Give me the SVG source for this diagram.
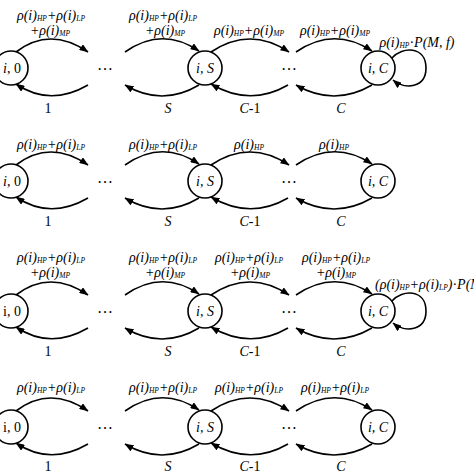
<svg xmlns="http://www.w3.org/2000/svg" width="474" height="474" viewBox="0 0 474 474">
<defs>
<marker id="ah" markerUnits="userSpaceOnUse" markerWidth="9" markerHeight="7" refX="8.5" refY="3.5" orient="auto">
<path d="M0,0 L9,3.5 L0,7 z" fill="#000"/>
</marker>
<style>
.arc{fill:none;stroke:#000;stroke-width:1.6;marker-end:url(#ah)}
.node{fill:#fff;stroke:#000;stroke-width:1.6}
.t{font-family:"Liberation Serif",serif;font-size:14px;fill:#000}
.r{font-family:"Liberation Serif",serif;font-size:14px;font-style:italic;fill:#000}
.s{font-size:7.5px;font-style:italic}
.it{font-style:italic}
.dots{font-family:"Liberation Serif",serif;font-size:16px;fill:#000}
</style>
</defs>
<rect width="474" height="474" fill="#fff"/>

<!-- ROW 1 -->
<g id="row1" transform="translate(0,68)">
<g id="r1-connectors">
<path class="arc" d="M16,-16 Q50,-42 88,-16"/>
<path class="arc" d="M125,-16 Q162,-42 199,-17"/>
<path class="arc" d="M211,-16 Q250,-42 289,-16"/>
<path class="arc" d="M296,-16 Q334,-42 372,-17"/>
<path class="arc" d="M88,17 Q50,39 16,16"/>
<path class="arc" d="M199,17 Q162,39 125,17"/>
<path class="arc" d="M288,17 Q250,39 211,16"/>
<path class="arc" d="M372,17 Q334,39 296,17"/>
<path class="arc" d="M392,-10 C402,-22 426,-22 426,0 C426,20 405,22 393,12"/>
</g>
<g id="r1-labels">
<text class="r" x="51" y="-48" text-anchor="middle">ρ(i)<tspan class="s" dy="1">HP</tspan><tspan dy="-1">+ρ(i)</tspan><tspan class="s" dy="1">LP</tspan></text>
<text class="r" x="50" y="-33" text-anchor="middle">+ρ(i)<tspan class="s" dy="1">MP</tspan></text>
<text class="r" x="163" y="-48" text-anchor="middle">ρ(i)<tspan class="s" dy="1">HP</tspan><tspan dy="-1">+ρ(i)</tspan><tspan class="s" dy="1">LP</tspan></text>
<text class="r" x="165" y="-33" text-anchor="middle">+ρ(i)<tspan class="s" dy="1">MP</tspan></text>
<text class="r" x="249" y="-33" text-anchor="middle">ρ(i)<tspan class="s" dy="1">HP</tspan><tspan dy="-1">+ρ(i)</tspan><tspan class="s" dy="1">MP</tspan></text>
<text class="r" x="335" y="-33" text-anchor="middle">ρ(i)<tspan class="s" dy="1">HP</tspan><tspan dy="-1">+ρ(i)</tspan><tspan class="s" dy="1">MP</tspan></text>
<text class="r" x="417" y="-21" text-anchor="middle">ρ(i)<tspan class="s" dy="1">HP</tspan><tspan dy="-1" font-style="normal">·</tspan>P(M, f)</text>
<text class="t" x="48" y="45" text-anchor="middle">1</text>
<text class="t it" x="168" y="45" text-anchor="middle">S</text>
<text class="t" x="250" y="45" text-anchor="middle"><tspan class="it">C</tspan>-1</text>
<text class="t it" x="341" y="45" text-anchor="middle">C</text>
<text class="dots" x="105" y="2" text-anchor="middle">…</text>
<text class="dots" x="289" y="2" text-anchor="middle">…</text>
</g>
<g id="r1-n0"><circle class="node" cx="11" cy="0" r="17"/><text class="t" x="12" y="5" text-anchor="middle"><tspan class="it">i</tspan>, 0</text></g>
<g id="r1-nS"><circle class="node" cx="205" cy="0" r="17"/><text class="t it" x="205" y="5" text-anchor="middle">i, S</text></g>
<g id="r1-nC"><circle class="node" cx="378" cy="0" r="17"/><text class="t it" x="378" y="5" text-anchor="middle">i, C</text></g>
</g>

<!-- ROW 2 -->
<g id="row2" transform="translate(0,181)">
<g id="r2-connectors">
<path class="arc" d="M16,-16 Q50,-42 88,-16"/>
<path class="arc" d="M125,-16 Q162,-42 199,-17"/>
<path class="arc" d="M211,-16 Q250,-42 289,-16"/>
<path class="arc" d="M296,-16 Q334,-42 372,-17"/>
<path class="arc" d="M88,17 Q50,39 16,16"/>
<path class="arc" d="M199,17 Q162,39 125,17"/>
<path class="arc" d="M288,17 Q250,39 211,16"/>
<path class="arc" d="M372,17 Q334,39 296,17"/>
</g>
<g id="r2-labels">
<text class="r" x="51" y="-32" text-anchor="middle">ρ(i)<tspan class="s" dy="1">HP</tspan><tspan dy="-1">+ρ(i)</tspan><tspan class="s" dy="1">LP</tspan></text>
<text class="r" x="163" y="-32" text-anchor="middle">ρ(i)<tspan class="s" dy="1">HP</tspan><tspan dy="-1">+ρ(i)</tspan><tspan class="s" dy="1">LP</tspan></text>
<text class="r" x="249" y="-32" text-anchor="middle">ρ(i)<tspan class="s" dy="1">HP</tspan></text>
<text class="r" x="334" y="-32" text-anchor="middle">ρ(i)<tspan class="s" dy="1">HP</tspan></text>
<text class="t" x="48" y="45" text-anchor="middle">1</text>
<text class="t it" x="168" y="45" text-anchor="middle">S</text>
<text class="t" x="250" y="45" text-anchor="middle"><tspan class="it">C</tspan>-1</text>
<text class="t it" x="341" y="45" text-anchor="middle">C</text>
<text class="dots" x="105" y="2" text-anchor="middle">…</text>
<text class="dots" x="289" y="2" text-anchor="middle">…</text>
</g>
<g id="r2-n0"><circle class="node" cx="11" cy="0" r="17"/><text class="t" x="12" y="5" text-anchor="middle"><tspan class="it">i</tspan>, 0</text></g>
<g id="r2-nS"><circle class="node" cx="205" cy="0" r="17"/><text class="t it" x="205" y="5" text-anchor="middle">i, S</text></g>
<g id="r2-nC"><circle class="node" cx="378" cy="0" r="17"/><text class="t it" x="378" y="5" text-anchor="middle">i, C</text></g>
</g>

<!-- ROW 3 -->
<g id="row3" transform="translate(0,311)">
<g id="r3-connectors">
<path class="arc" d="M16,-16 Q50,-42 88,-16"/>
<path class="arc" d="M125,-16 Q162,-42 199,-17"/>
<path class="arc" d="M211,-16 Q250,-42 289,-16"/>
<path class="arc" d="M296,-16 Q334,-42 372,-17"/>
<path class="arc" d="M88,17 Q50,39 16,16"/>
<path class="arc" d="M199,17 Q162,39 125,17"/>
<path class="arc" d="M288,17 Q250,39 211,16"/>
<path class="arc" d="M372,17 Q334,39 296,17"/>
<path class="arc" d="M392,-10 C402,-22 426,-22 426,0 C426,20 405,22 393,12"/>
</g>
<g id="r3-labels">
<text class="r" x="51" y="-49" text-anchor="middle">ρ(i)<tspan class="s" dy="1">HP</tspan><tspan dy="-1">+ρ(i)</tspan><tspan class="s" dy="1">LP</tspan></text>
<text class="r" x="50" y="-34" text-anchor="middle">+ρ(i)<tspan class="s" dy="1">MP</tspan></text>
<text class="r" x="163" y="-49" text-anchor="middle">ρ(i)<tspan class="s" dy="1">HP</tspan><tspan dy="-1">+ρ(i)</tspan><tspan class="s" dy="1">LP</tspan></text>
<text class="r" x="165" y="-34" text-anchor="middle">+ρ(i)<tspan class="s" dy="1">MP</tspan></text>
<text class="r" x="249" y="-49" text-anchor="middle">ρ(i)<tspan class="s" dy="1">HP</tspan><tspan dy="-1">+ρ(i)</tspan><tspan class="s" dy="1">LP</tspan></text>
<text class="r" x="250" y="-34" text-anchor="middle">+ρ(i)<tspan class="s" dy="1">MP</tspan></text>
<text class="r" x="336" y="-49" text-anchor="middle">ρ(i)<tspan class="s" dy="1">HP</tspan><tspan dy="-1">+ρ(i)</tspan><tspan class="s" dy="1">LP</tspan></text>
<text class="r" x="336" y="-34" text-anchor="middle">+ρ(i)<tspan class="s" dy="1">MP</tspan></text>
<text class="r" x="375" y="-22">(ρ(i)<tspan class="s" dy="1">HP</tspan><tspan dy="-1">+ρ(i)</tspan><tspan class="s" dy="1">LP</tspan><tspan dy="-1">)</tspan><tspan font-style="normal">·</tspan>P(M, f)</text>
<text class="t" x="48" y="45" text-anchor="middle">1</text>
<text class="t it" x="168" y="45" text-anchor="middle">S</text>
<text class="t" x="250" y="45" text-anchor="middle"><tspan class="it">C</tspan>-1</text>
<text class="t it" x="341" y="45" text-anchor="middle">C</text>
<text class="dots" x="105" y="2" text-anchor="middle">…</text>
<text class="dots" x="289" y="2" text-anchor="middle">…</text>
</g>
<g id="r3-n0"><circle class="node" cx="11" cy="0" r="17"/><text class="t" x="12" y="5" text-anchor="middle">i, 0</text></g>
<g id="r3-nS"><circle class="node" cx="205" cy="0" r="17"/><text class="t it" x="205" y="5" text-anchor="middle">i, S</text></g>
<g id="r3-nC"><circle class="node" cx="378" cy="0" r="17"/><text class="t it" x="378" y="5" text-anchor="middle">i, C</text></g>
</g>

<!-- ROW 4 -->
<g id="row4" transform="translate(0,427)">
<g id="r4-connectors">
<path class="arc" d="M16,-16 Q50,-42 88,-16"/>
<path class="arc" d="M125,-16 Q162,-42 199,-17"/>
<path class="arc" d="M211,-16 Q250,-42 289,-16"/>
<path class="arc" d="M296,-16 Q334,-42 372,-17"/>
<path class="arc" d="M88,17 Q50,39 16,16"/>
<path class="arc" d="M199,17 Q162,39 125,17"/>
<path class="arc" d="M288,17 Q250,39 211,16"/>
<path class="arc" d="M372,17 Q334,39 296,17"/>
</g>
<g id="r4-labels">
<text class="r" x="51" y="-35" text-anchor="middle">ρ(i)<tspan class="s" dy="1">HP</tspan><tspan dy="-1">+ρ(i)</tspan><tspan class="s" dy="1">LP</tspan></text>
<text class="r" x="163" y="-35" text-anchor="middle">ρ(i)<tspan class="s" dy="1">HP</tspan><tspan dy="-1">+ρ(i)</tspan><tspan class="s" dy="1">LP</tspan></text>
<text class="r" x="249" y="-35" text-anchor="middle">ρ(i)<tspan class="s" dy="1">HP</tspan><tspan dy="-1">+ρ(i)</tspan><tspan class="s" dy="1">LP</tspan></text>
<text class="r" x="335" y="-35" text-anchor="middle">ρ(i)<tspan class="s" dy="1">HP</tspan><tspan dy="-1">+ρ(i)</tspan><tspan class="s" dy="1">LP</tspan></text>
<text class="t" x="48" y="44" text-anchor="middle">1</text>
<text class="t it" x="168" y="44" text-anchor="middle">S</text>
<text class="t" x="250" y="44" text-anchor="middle"><tspan class="it">C</tspan>-1</text>
<text class="t it" x="341" y="44" text-anchor="middle">C</text>
<text class="dots" x="105" y="2" text-anchor="middle">…</text>
<text class="dots" x="289" y="2" text-anchor="middle">…</text>
</g>
<g id="r4-n0"><circle class="node" cx="11" cy="0" r="17"/><text class="t" x="12" y="5" text-anchor="middle">i, 0</text></g>
<g id="r4-nS"><circle class="node" cx="205" cy="0" r="17"/><text class="t it" x="205" y="5" text-anchor="middle">i, S</text></g>
<g id="r4-nC"><circle class="node" cx="378" cy="0" r="17"/><text class="t it" x="378" y="5" text-anchor="middle">i, C</text></g>
</g>
</svg>
